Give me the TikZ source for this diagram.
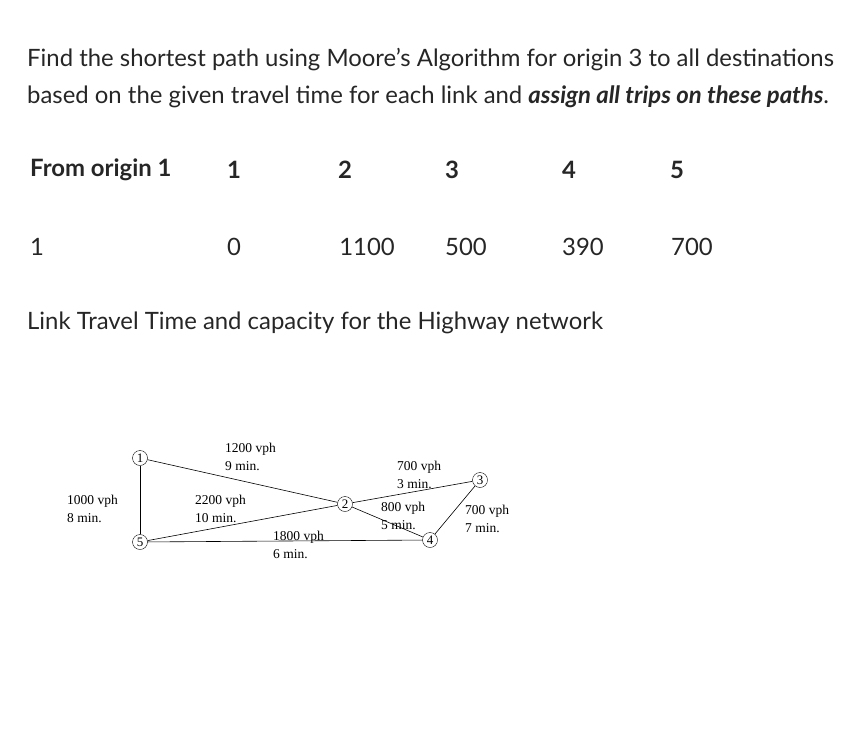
\documentclass[tikz,border=0pt]{standalone}
\usepackage{fontspec}
\setmainfont{Lato}
\newfontfamily\netfont{Liberation Serif}
\begin{document}
\begin{tikzpicture}[x=1pt,y=-1pt,
  txt/.style={anchor=west,inner sep=0pt,font=\fontsize{23.9}{28}\selectfont,text=black!85},
  hd/.style={inner sep=0pt,font=\fontsize{23.9}{28}\selectfont\bfseries,text=black!85},
  val/.style={inner sep=0pt,font=\fontsize{23.9}{28}\selectfont,text=black!85},
  nd/.style={circle,draw,inner sep=0pt,minimum size=15pt,font=\netfont\fontsize{13}{14}\selectfont},
  lab/.style={anchor=west,inner sep=0pt,align=left,font=\netfont\fontsize{13.5}{18}\selectfont},
  ln/.style={draw,line width=0.6pt}]
\useasboundingbox (0,0) rectangle (842,738);
\node[txt] (t1) at (27,60) {Find the shortest path using Moore’s Algorithm for origin 3 to all destinations};
\node[txt] (t2) at (27,97) {based on the given travel time for each link and \textbf{\itshape assign all trips on these paths}.};
\node[hd,anchor=west] (h0) at (30,170) {From origin 1};
\node[hd] (h1) at (234,170) {1};
\node[hd] (h2) at (345,170) {2};
\node[hd] (h3) at (452,170) {3};
\node[hd] (h4) at (569,170) {4};
\node[hd] (h5) at (677,170) {5};
\node[val,anchor=west] (r0) at (30,247) {1};
\node[val] (r1) at (234,247) {0};
\node[val] (r2) at (367,247) {1100};
\node[val] (r3) at (466,247) {500};
\node[val] (r4) at (583,247) {390};
\node[val] (r5) at (692,247) {700};
\node[txt] (lt) at (27,323) {Link Travel Time and capacity for the Highway network};
\node[nd] (n1) at (140,458) {1};
\node[nd] (n2) at (345,504) {2};
\node[nd] (n3) at (480,480) {3};
\node[nd] (n4) at (430,540) {4};
\node[nd] (n5) at (140,542) {5};
\draw[ln] (n1)--(n2); \draw[ln] (n1)--(n5); \draw[ln] (n5)--(n2);
\draw[ln] (n5)--(n4); \draw[ln] (n2)--(n3); \draw[ln] (n2)--(n4); \draw[ln] (n3)--(n4);
\node[lab] (l12) at (225,457) {1200 vph\\9 min.};
\node[lab] (l23) at (397,475) {700 vph\\3 min.};
\node[lab] (l15) at (67,509) {1000 vph\\8 min.};
\node[lab] (l52) at (195,509) {2200 vph\\10 min.};
\node[lab] (l24) at (381,516) {800 vph\\5 min.};
\node[lab] (l34) at (465,519) {700 vph\\7 min.};
\node[lab] (l54) at (273,545) {1800 vph\\6 min.};
\end{tikzpicture}
\end{document}
